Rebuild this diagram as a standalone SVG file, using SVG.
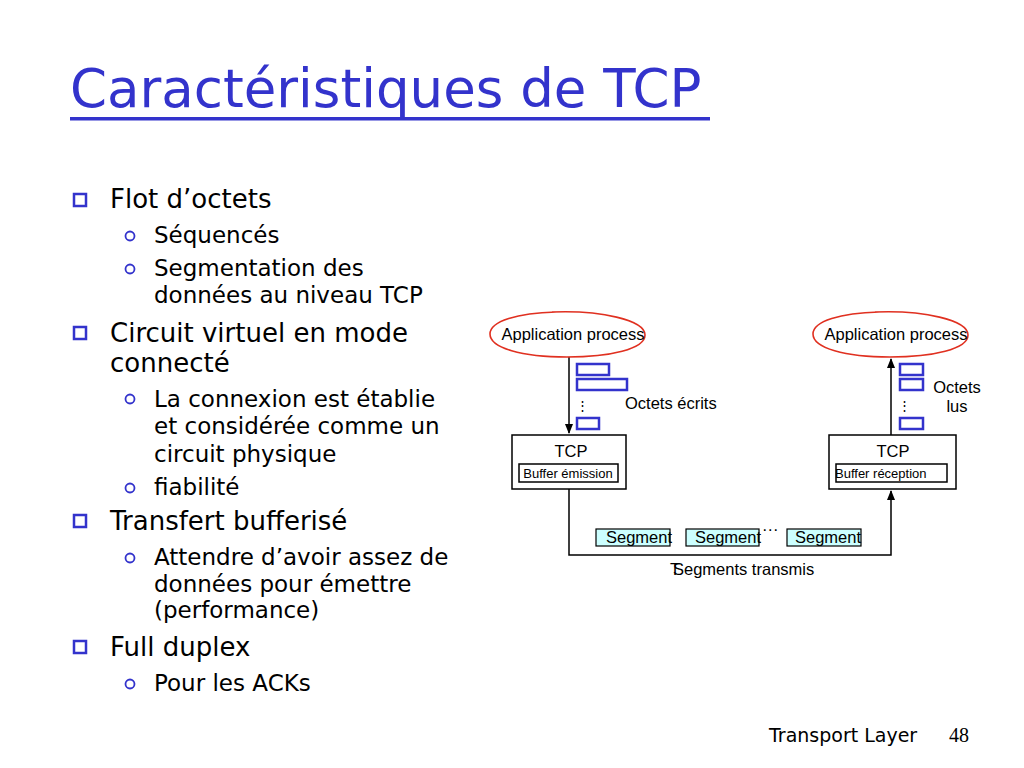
<svg xmlns="http://www.w3.org/2000/svg" width="1024" height="768" viewBox="0 0 1024 768">
<style>
.title{font-family:"DejaVu Sans","Liberation Sans",sans-serif;font-size:53px;fill:#3333cc}
.l1{font-family:"DejaVu Sans","Liberation Sans",sans-serif;font-size:26px;fill:#000}
.l2{font-family:"DejaVu Sans","Liberation Sans",sans-serif;font-size:23px;fill:#000}
.sq{fill:#fff;stroke:#3333cc;stroke-width:2.5}
.ci{fill:#fff;stroke:#3333cc;stroke-width:1.8}
.d{font-family:"Liberation Sans",Arial,sans-serif;font-size:16.5px;fill:#000}
.ds{font-family:"Liberation Sans",Arial,sans-serif;font-size:13px;fill:#000}
.box{fill:#fff;stroke:#000;stroke-width:1.5}
.oct{fill:none;stroke:#3333cc;stroke-width:2.5}
.seg{fill:#ccffff;stroke:#000;stroke-width:1.2}
.ell{fill:none;stroke:#e03020;stroke-width:1.6}
.conn{fill:none;stroke:#000;stroke-width:1.5}
.foot{font-family:"DejaVu Sans","Liberation Sans",sans-serif;font-size:19px;fill:#000}
</style>
<defs>
<marker id="ah" markerWidth="10" markerHeight="10" refX="9" refY="5" orient="auto" markerUnits="userSpaceOnUse">
<path d="M0,1 L10,5 L0,9 Z" fill="#000"/>
</marker>
</defs>
<rect width="1024" height="768" fill="#fff"/>

<g id="title">
<text class="title" x="70" y="107">Caractéristiques de TCP</text>
<rect x="70" y="117" width="640" height="3.5" fill="#3333cc"/>
</g>

<g id="bullets">
<rect class="sq" x="74" y="194" width="12" height="12"/>
<text class="l1" x="110" y="208">Flot d’octets</text>
<circle class="ci" cx="130" cy="236" r="4.5"/>
<text class="l2" x="154" y="243">Séquencés</text>
<circle class="ci" cx="130" cy="269" r="4.5"/>
<text class="l2" x="154" y="276">Segmentation des</text>
<text class="l2" x="154" y="303">données au niveau TCP</text>

<rect class="sq" x="74" y="327" width="12" height="12"/>
<text class="l1" x="110" y="342">Circuit virtuel en mode</text>
<text class="l1" x="110" y="372">connecté</text>
<circle class="ci" cx="130" cy="399" r="4.5"/>
<text class="l2" x="154" y="407">La connexion est établie</text>
<text class="l2" x="154" y="434">et considérée comme un</text>
<text class="l2" x="154" y="462">circuit physique</text>
<circle class="ci" cx="130" cy="488" r="4.5"/>
<text class="l2" x="154" y="495">fiabilité</text>

<rect class="sq" x="74" y="515" width="12" height="12"/>
<text class="l1" x="110" y="530">Transfert bufferisé</text>
<circle class="ci" cx="130" cy="558" r="4.5"/>
<text class="l2" x="154" y="565">Attendre d’avoir assez de</text>
<text class="l2" x="154" y="592">données pour émettre</text>
<text class="l2" x="154" y="618">(performance)</text>

<rect class="sq" x="74" y="641" width="12" height="12"/>
<text class="l1" x="110" y="656">Full duplex</text>
<circle class="ci" cx="130" cy="684" r="4.5"/>
<text class="l2" x="154" y="691">Pour les ACKs</text>
</g>

<g id="connectors">
<line class="conn" x1="569" y1="357" x2="569" y2="433" marker-end="url(#ah)"/>
<line class="conn" x1="891" y1="435" x2="891" y2="359" marker-end="url(#ah)"/>
<polyline class="conn" points="569,489 569,555 891,555 891,491" marker-end="url(#ah)"/>
</g>

<g id="app-left">
<path class="ell" d="M552,312 C600,310 645,320 645,335 C645,349 610,357 567,357 C522,357 490,348 490,334 C490,321 518,313 556,312"/>
<text class="d" x="573" y="340" text-anchor="middle">Application process</text>
</g>

<g id="app-right">
<path class="ell" d="M875,312 C923,310 968,320 968,335 C968,349 933,357 890,357 C845,357 813,348 813,334 C813,321 841,313 879,312"/>
<text class="d" x="896" y="340" text-anchor="middle">Application process</text>
</g>

<g id="octets-ecrits">
<rect class="oct" x="577" y="364" width="32" height="11"/>
<rect class="oct" x="577" y="379" width="50" height="11"/>
<text class="ds" x="582" y="410" text-anchor="middle" font-size="10">⋮</text>
<rect class="oct" x="577" y="418" width="22" height="11"/>
<text class="d" x="625" y="409">Octets écrits</text>
</g>

<g id="octets-lus">
<rect class="oct" x="900" y="364" width="23" height="11"/>
<rect class="oct" x="900" y="379" width="23" height="11"/>
<text class="ds" x="904" y="410" text-anchor="middle" font-size="10">⋮</text>
<rect class="oct" x="900" y="418" width="23" height="11" stroke-width="1.5" stroke="#5050cc"/>
<text class="d" x="957" y="393" text-anchor="middle">Octets</text>
<text class="d" x="957" y="412" text-anchor="middle">lus</text>
</g>

<g id="tcp-left">
<rect class="box" x="512" y="435" width="114" height="54"/>
<text class="d" x="571" y="457" text-anchor="middle">TCP</text>
<rect class="box" x="519" y="464" width="99" height="18"/>
<text class="ds" x="568" y="478" text-anchor="middle">Buffer émission</text>
</g>

<g id="tcp-right">
<rect class="box" x="829" y="435" width="127" height="54"/>
<text class="d" x="893" y="457" text-anchor="middle">TCP</text>
<rect class="box" x="836" y="464" width="111" height="18"/>
<text class="ds" x="835" y="478">Buffer réception</text>
</g>

<g id="segments">
<rect class="seg" x="596" y="529" width="74" height="17"/>
<text class="d" x="606" y="543">Segment</text>
<rect class="seg" x="686" y="529" width="73" height="17"/>
<text class="d" x="695" y="543">Segment</text>
<text class="d" x="762" y="535">···</text>
<rect class="seg" x="787" y="529" width="74" height="17"/>
<text class="d" x="795" y="543">Segment</text>
<text class="d" x="670" y="575">T</text>
<text class="d" x="673" y="575">Segments transmis</text>
</g>

<g id="footer">
<text class="foot" x="769" y="742">Transport Layer</text>
<text x="949" y="742" font-family="Liberation Serif,serif" font-size="20" fill="#000">48</text>
</g>
</svg>
